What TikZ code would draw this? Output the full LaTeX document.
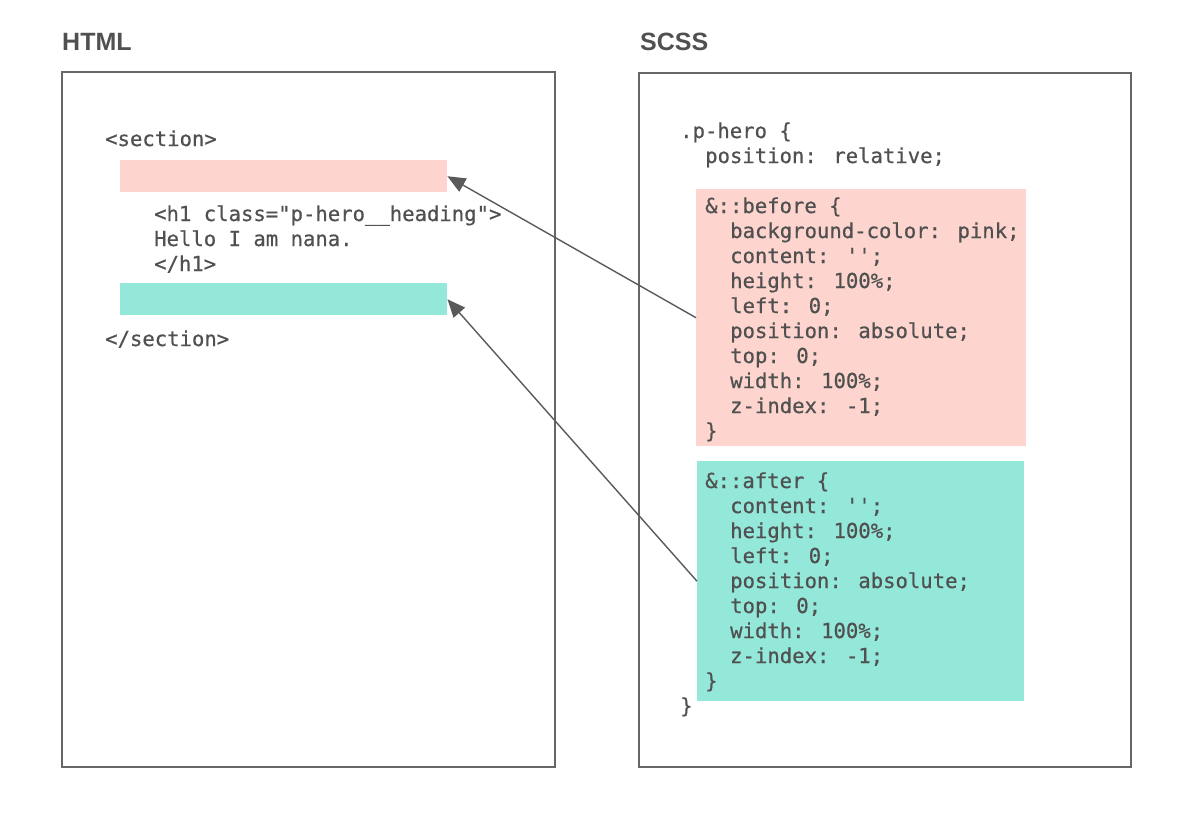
\documentclass[tikz,border=0pt]{standalone}
\usepackage{fontspec}
\setmainfont{Liberation Sans}
\newfontfamily\codefont[FakeBold=0.6]{DejaVu Sans Mono}
\usetikzlibrary{arrows.meta}
\definecolor{txtgray}{HTML}{505050}
\definecolor{linegray}{HTML}{666666}
\definecolor{pinkfill}{HTML}{FDD5CE}
\definecolor{tealfill}{HTML}{93E8D9}
\definecolor{arrowgray}{HTML}{5A5A5A}
\tikzset{
  title/.style={anchor=base west, inner sep=0pt, text=txtgray, font=\fontsize{25}{30}\selectfont\bfseries},
  panel/.style={draw=linegray, line width=1.5pt, fill=none},
  code/.style={anchor=base west, inner sep=0pt, text=txtgray, font=\codefont\fontsize{20.6}{25}\selectfont},
  bar/.style={anchor=north west, inner sep=0pt, draw=none, minimum width=#1},
  pinkbox/.style={fill=pinkfill},
  tealbox/.style={fill=tealfill},
  link/.style={draw=arrowgray, line width=1.4pt, -{Triangle[length=18pt,width=15pt]}}
}
\begin{document}
\begin{tikzpicture}[x=1pt,y=-1pt]
\useasboundingbox (0,0) rectangle (1200,831);
% titles
\node[title] (thtml) at (62,50) {HTML};
\node[title] (tscss) at (640,50) {SCSS};
% panels
\draw[panel] (62,72) rectangle (555,767);
\draw[panel] (639,73) rectangle (1131,767);
% coloured blocks
\node[bar=327pt, minimum height=32pt, pinkbox] (pinkbar) at (120,160) {};
\node[bar=327pt, minimum height=32pt, tealbox] (tealbar) at (120,283) {};
\node[bar=330pt, minimum height=257pt, pinkbox] (pinkblock) at (696,189) {};
\node[bar=327pt, minimum height=240pt, tealbox] (tealblock) at (697,461) {};
% HTML code
\node[code] (h1) at (105,146) {<section>};
\node[code] (h2) at (154,221) {<h1 class="p-hero\_\_heading">};
\node[code] (h3) at (154,246) {Hello I am nana.};
\node[code] (h4) at (154,271) {</h1>};
\node[code] (h5) at (105,346) {</section>};
% SCSS code
\node[code] (s1) at (680,138) {.p-hero \{};
\node[code] (s2) at (705,163) {position: relative;};
\node[code] (s3) at (705,213) {\&::before \{};
\node[code] (s4) at (730,238) {background-color: pink;};
\node[code] (s5) at (730,263) {content: '{}';};
\node[code] (s6) at (730,288) {height: 100\%;};
\node[code] (s7) at (730,313) {left: 0;};
\node[code] (s8) at (730,338) {position: absolute;};
\node[code] (s9) at (730,363) {top: 0;};
\node[code] (s10) at (730,388) {width: 100\%;};
\node[code] (s11) at (730,413) {z-index: -1;};
\node[code] (s12) at (705,438) {\}};
\node[code] (s13) at (705,488) {\&::after \{};
\node[code] (s14) at (730,513) {content: '{}';};
\node[code] (s15) at (730,538) {height: 100\%;};
\node[code] (s16) at (730,563) {left: 0;};
\node[code] (s17) at (730,588) {position: absolute;};
\node[code] (s18) at (730,613) {top: 0;};
\node[code] (s19) at (730,638) {width: 100\%;};
\node[code] (s20) at (730,663) {z-index: -1;};
\node[code] (s21) at (705,688) {\}};
\node[code] (s22) at (680,713) {\}};
% connectors
\draw[link] (pinkblock.west) -- (pinkbar.east);
\draw[link] (tealblock.west) -- (tealbar.east);
\end{tikzpicture}
\end{document}
